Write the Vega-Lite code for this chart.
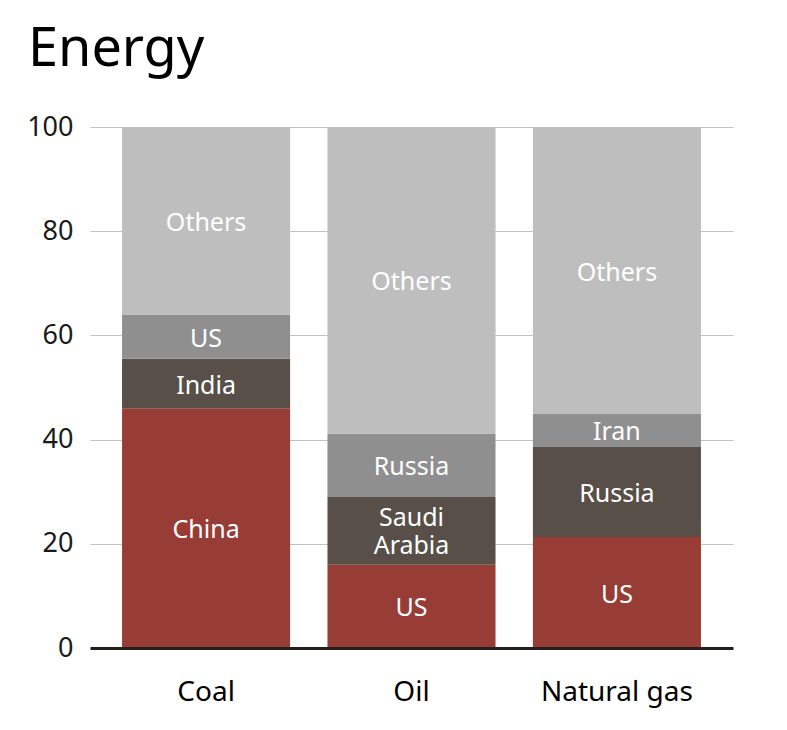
{
  "$schema": "https://vega.github.io/schema/vega-lite/v6.json",
  "description": "Energy: shares of production by country",
  "width": 643,
  "height": 521,
  "autosize": {"type": "none"},
  "padding": {"left": 90, "top": 127, "right": 54, "bottom": 82},
  "background": "white",
  "view": {"stroke": null},
  "title": {
    "text": "Energy",
    "anchor": "start",
    "frame": "group",
    "font": "Noto Sans",
    "fontSize": 54,
    "fontWeight": "normal",
    "color": "#000000",
    "dx": -62,
    "offset": 36
  },
  "data": {
    "values": [
      {"fuel": "Coal", "country": "China", "share": 46, "rank": 1},
      {"fuel": "Coal", "country": "India", "share": 9.5, "rank": 2},
      {"fuel": "Coal", "country": "US", "share": 8.5, "rank": 3},
      {"fuel": "Coal", "country": "Others", "share": 36, "rank": 4},
      {"fuel": "Oil", "country": "US", "share": 16, "rank": 1},
      {"fuel": "Oil", "country": "Saudi\nArabia", "share": 13, "rank": 2},
      {"fuel": "Oil", "country": "Russia", "share": 12.1, "rank": 3},
      {"fuel": "Oil", "country": "Others", "share": 58.9, "rank": 4},
      {"fuel": "Natural gas", "country": "US", "share": 21.3, "rank": 1},
      {"fuel": "Natural gas", "country": "Russia", "share": 17.3, "rank": 2},
      {"fuel": "Natural gas", "country": "Iran", "share": 6.3, "rank": 3},
      {"fuel": "Natural gas", "country": "Others", "share": 55.1, "rank": 4}
    ]
  },
  "transform": [
    {
      "stack": "share",
      "groupby": ["fuel"],
      "sort": [{"field": "rank", "order": "ascending"}],
      "as": ["y0", "y1"]
    },
    {"calculate": "(datum.y0 + datum.y1) / 2", "as": "mid"}
  ],
  "encoding": {
    "x": {
      "field": "fuel",
      "type": "nominal",
      "sort": ["Coal", "Oil", "Natural gas"],
      "title": null,
      "scale": {"paddingInner": 0.182, "paddingOuter": 0.156},
      "axis": {
        "labelAngle": 0,
        "labelFont": "Noto Sans",
        "labelFontSize": 28,
        "labelColor": "#000000",
        "labelPadding": 30,
        "ticks": false,
        "domainColor": "#231f1c",
        "domainWidth": 3,
        "zindex": 1
      }
    }
  },
  "layer": [
    {
      "mark": {"type": "bar"},
      "encoding": {
        "y": {
          "field": "y1",
          "type": "quantitative",
          "title": null,
          "scale": {"domain": [0, 100], "nice": false},
          "axis": {
            "values": [0, 20, 40, 60, 80, 100],
            "domain": false,
            "ticks": false,
            "grid": true,
            "gridColor": "#c2c2c2",
            "gridWidth": 1,
            "labelFont": "Noto Sans",
            "labelFontSize": 27,
            "labelColor": "#1a1a1a",
            "labelPadding": 17
          }
        },
        "y2": {"field": "y0"},
        "color": {
          "field": "rank",
          "type": "nominal",
          "legend": null,
          "scale": {
            "domain": [1, 2, 3, 4],
            "range": ["#973d36", "#574f48", "#8f8f8f", "#bebebe"]
          }
        }
      }
    },
    {
      "transform": [{"filter": "indexof(datum.country, '\\n') < 0"}],
      "mark": {
        "type": "text",
        "font": "Noto Sans",
        "fontSize": 25,
        "color": "#ffffff",
        "baseline": "middle",
        "dy": 2
      },
      "encoding": {
        "y": {"field": "mid", "type": "quantitative"},
        "text": {"field": "country", "type": "nominal"}
      }
    },
    {
      "transform": [{"filter": "indexof(datum.country, '\\n') >= 0"}],
      "mark": {
        "type": "text",
        "font": "Noto Sans",
        "fontSize": 25,
        "color": "#ffffff",
        "baseline": "middle",
        "lineBreak": "\n",
        "lineHeight": 28,
        "dy": -13
      },
      "encoding": {
        "y": {"field": "mid", "type": "quantitative"},
        "text": {"field": "country", "type": "nominal"}
      }
    }
  ]
}
